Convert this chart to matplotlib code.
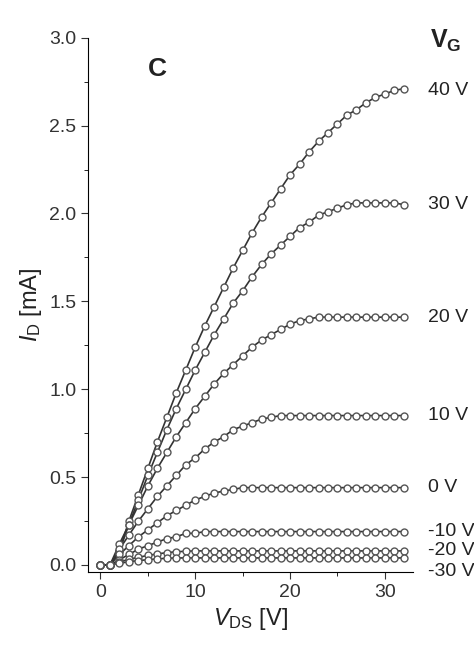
import numpy as np
import matplotlib
matplotlib.use('Agg')
import matplotlib.pyplot as plt

plt.rcParams['font.family'] = ['Liberation Sans', 'DejaVu Sans']
plt.rcParams['mathtext.fontset'] = 'custom'
plt.rcParams['mathtext.rm'] = 'Liberation Sans'
plt.rcParams['mathtext.it'] = 'Liberation Sans:italic'
plt.rcParams['mathtext.bf'] = 'Liberation Sans:bold'

vds = list(range(0, 33))
gate_labels = ['40 V', '30 V', '20 V', '10 V', '0 V', '-10 V', '-20 V', '-30 V']
label_y = [2.70, 2.05, 1.41, 0.85, 0.44, 0.19, 0.08, -0.04]

id_40 = [0, 0, .08, .25, .40, .55, .70, .84, .98, 1.11, 1.24, 1.36, 1.47, 1.58, 1.69, 1.79, 1.89,
         1.98, 2.06, 2.14, 2.22, 2.28, 2.35, 2.41, 2.46, 2.51, 2.56, 2.59, 2.63, 2.66, 2.68, 2.70, 2.71]
id_30 = [0, 0, .08, .23, .37, .51, .64, .77, .89, 1.00, 1.11, 1.21, 1.31, 1.40, 1.49, 1.56, 1.64,
         1.71, 1.77, 1.82, 1.87, 1.92, 1.95, 1.99, 2.01, 2.03, 2.05, 2.06, 2.06, 2.06, 2.06, 2.06, 2.05]
id_20 = [0, 0, .12, .23, .34, .45, .55, .64, .73, .81, .89, .96, 1.03, 1.09, 1.14, 1.19, 1.24,
         1.28, 1.31, 1.34, 1.37, 1.39, 1.40, 1.41, 1.41, 1.41, 1.41, 1.41, 1.41, 1.41, 1.41, 1.41, 1.41]
id_10 = [0, 0, .09, .17, .25, .32, .39, .45, .51, .57, .61, .66, .70, .73, .77, .79, .81,
         .83, .84, .85, .85, .85, .85, .85, .85, .85, .85, .85, .85, .85, .85, .85, .85]
id_0 = [0, 0, .06, .11, .16, .20, .24, .28, .31, .34, .37, .39, .41, .42, .43, .44, .44,
        .44, .44, .44, .44, .44, .44, .44, .44, .44, .44, .44, .44, .44, .44, .44, .44]
id_m10 = [0, 0, .03, .06, .09, .11, .13, .15, .16, .18, .18, .19, .19, .19, .19, .19, .19,
          .19, .19, .19, .19, .19, .19, .19, .19, .19, .19, .19, .19, .19, .19, .19, .19]
id_m20 = [0, 0, .017, .032, .044, .054, .063, .070, .075, .078, .08, .08, .08, .08, .08, .08, .08,
          .08, .08, .08, .08, .08, .08, .08, .08, .08, .08, .08, .08, .08, .08, .08, .08]
id_m30 = [0, 0, .01, .018, .025, .03, .035, .038, .04, .04, .04, .04, .04, .04, .04, .04, .04,
          .04, .04, .04, .04, .04, .04, .04, .04, .04, .04, .04, .04, .04, .04, .04, .04]
curves = [id_40, id_30, id_20, id_10, id_0, id_m10, id_m20, id_m30]

fig = plt.figure(figsize=(4.74, 6.5), dpi=100)
ax = fig.add_axes([0.186, 0.12, 0.686, 0.822])
for y in curves:
    ax.plot(vds, y, '-', color='#333333', lw=1.2, zorder=2)
    ax.plot(vds, y, 'o', ms=5, mfc='white', mec='#555555', mew=1.0, zorder=3)

ax.set_xlim(-1.3, 33)
ax.set_ylim(-0.04, 3.0)
ax.set_xticks([0, 10, 20, 30])
ax.set_xticks([5, 15, 25], minor=True)
ax.set_yticks(np.arange(0, 3.01, 0.5))
ax.set_yticks(np.arange(0.25, 3.0, 0.5), minor=True)
ax.yaxis.set_major_formatter(matplotlib.ticker.FormatStrFormatter('%.1f'))
ax.spines['right'].set_visible(False)
ax.spines['top'].set_visible(False)
ax.tick_params(labelsize=14, colors='#333333', length=5)
ax.tick_params(which='minor', length=3)
ax.set_xlabel(r'$V_{\mathrm{DS}}$ [V]', fontsize=17, color='#222222')
ax.set_ylabel(r'$I_{\mathrm{D}}$ [mA]', fontsize=17, color='#222222')

for lab, yv in zip(gate_labels, label_y):
    ax.text(34.5, yv, lab, fontsize=14, va='center', ha='left', color='#222222', clip_on=False)
ax.text(34.8, 2.98, r'$\mathbf{V_G}$', fontsize=18, va='center', ha='left', color='#222222')
ax.text(5.0, 2.78, 'C', fontsize=19, fontweight='bold', color='#222222')

fig.savefig('out.png', dpi=100)
